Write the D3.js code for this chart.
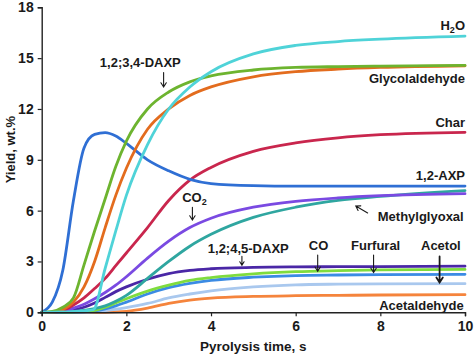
<!DOCTYPE html>
<html>
<head>
<meta charset="utf-8">
<script src="https://cdn.jsdelivr.net/npm/d3@7/dist/d3.min.js"></script>
<style>
  html, body { margin: 0; padding: 0; background: #fff; }
  svg { display: block; }
  text { font-family: "Liberation Sans", Arial, sans-serif; font-weight: bold; fill: #1a1a1a; }
</style>
</head>
<body>
<svg id="chart" width="474" height="356"></svg>
<script>
// ---------- data ----------
const time    = [0, 0.25, 0.5, 0.75, 1, 1.25, 1.5, 1.75, 2, 2.5, 3, 3.5, 4, 5, 6, 7, 8, 10];
const timeH2O = [0, 0.5, 1, 1.22, 1.5, 1.75, 2, 2.5, 3, 3.5, 4, 5, 6, 7, 8, 10];

const axp12        = [0, 0.6, 2.5, 6.6, 9.7, 10.5, 10.6, 10.4, 9.97, 9.0, 8.35, 7.85, 7.6, 7.48, 7.45, 7.45, 7.45, 7.45];
const daxp1234     = [0, 0.05, 0.3, 0.85, 2.8, 4.8, 6.7, 8.6, 10.1, 12.0, 13.0, 13.6, 13.95, 14.3, 14.45, 14.5, 14.53, 14.57];
const glycolald    = [0, 0, 0.15, 0.6, 1.5, 3.0, 5.0, 6.9, 8.5, 10.8, 12.0, 12.8, 13.3, 13.9, 14.2, 14.35, 14.45, 14.55];
const water        = [0, 0.02, 0.08, 0.15, 2.6, 4.8, 6.9, 9.9, 12.0, 13.3, 14.2, 15.25, 15.75, 15.98, 16.12, 16.3];
const charY        = [0, 0, 0.1, 0.43, 0.85, 1.4, 2.0, 2.75, 3.5, 5.0, 6.6, 7.8, 8.55, 9.5, 10.0, 10.3, 10.48, 10.62];
const co2          = [0, 0, 0.05, 0.25, 0.48, 0.8, 1.17, 1.6, 2.1, 3.2, 4.2, 5.0, 5.55, 6.2, 6.55, 6.75, 6.88, 7.0];
const methylglyox  = [0, 0, 0, 0.05, 0.12, 0.22, 0.38, 0.65, 1.0, 2.0, 3.0, 3.9, 4.6, 5.6, 6.2, 6.6, 6.84, 7.18];
const daxp1245     = [0, 0, 0.05, 0.15, 0.3, 0.55, 0.88, 1.22, 1.5, 1.95, 2.28, 2.47, 2.57, 2.65, 2.68, 2.69, 2.7, 2.72];
const coY          = [0, 0, 0, 0.02, 0.05, 0.12, 0.3, 0.55, 0.8, 1.25, 1.6, 1.88, 2.05, 2.27, 2.4, 2.46, 2.5, 2.53];
const furfural     = [0, 0, 0, 0, 0.02, 0.08, 0.2, 0.38, 0.6, 1.08, 1.45, 1.7, 1.88, 2.07, 2.17, 2.2, 2.22, 2.24];
const acetol       = [0, 0, 0, 0, 0, 0.03, 0.1, 0.18, 0.28, 0.52, 0.85, 1.08, 1.27, 1.5, 1.62, 1.66, 1.68, 1.69];
const acetaldehyde = [0, 0, 0, 0, 0, 0, 0, 0.02, 0.06, 0.25, 0.52, 0.72, 0.84, 0.94, 0.98, 1.0, 1.02, 1.04];

const xTicks = [0, 2, 4, 6, 8, 10];
const yTicks = [0, 3, 6, 9, 12, 15, 18];

// ---------- series table ----------
const series = [
  { key: "Acetaldehyde",  t: time,    v: acetaldehyde, color: "#f5843c" },
  { key: "Acetol",        t: time,    v: acetol,       color: "#a9c8ee" },
  { key: "Furfural",      t: time,    v: furfural,     color: "#3b8be4" },
  { key: "CO",            t: time,    v: coY,          color: "#7fdc3e" },
  { key: "1,2;4,5-DAXP",  t: time,    v: daxp1245,     color: "#4a27a6" },
  { key: "Methylglyoxal", t: time,    v: methylglyox,  color: "#2fa6a0" },
  { key: "CO2",           t: time,    v: co2,          color: "#7a4ae2" },
  { key: "Char",          t: time,    v: charY,        color: "#c9264d" },
  { key: "1,2-AXP",       t: time,    v: axp12,        color: "#2f6fd4" },
  { key: "Glycolaldehyde",t: time,    v: glycolald,    color: "#e36c1e" },
  { key: "1,2;3,4-DAXP",  t: time,    v: daxp1234,     color: "#6db42f" },
  { key: "H2O",           t: timeH2O, v: water,        color: "#4fd3d8" }
];

// ---------- layout ----------
const svg = d3.select("#chart");
const x = d3.scaleLinear().domain([0, 10]).range([41.7, 465]);
const y = d3.scaleLinear().domain([0, 18]).range([312.3, 7.3]);

const line = d3.line()
  .x(d => x(d[0]))
  .y(d => y(d[1]))
  .curve(d3.curveMonotoneX);

svg.append("g").selectAll("path")
  .data(series)
  .join("path")
  .attr("d", s => line(s.t.map((t, i) => [t, s.v[i]])))
  .attr("fill", "none")
  .attr("stroke", s => s.color)
  .attr("stroke-width", 2.8)
  .attr("stroke-linejoin", "round")
  .attr("stroke-linecap", "round");

// ---------- axes ----------
const xAxis = svg.append("g")
  .attr("transform", `translate(0,${y(0)})`)
  .call(d3.axisBottom(x).tickValues(xTicks).tickSize(4).tickPadding(5).tickFormat(d3.format("d")));
const yAxis = svg.append("g")
  .attr("transform", `translate(${x(0)},0)`)
  .call(d3.axisLeft(y).tickValues(yTicks).tickSize(4).tickPadding(4).tickFormat(d3.format("d")));
[xAxis, yAxis].forEach(g => {
  g.select(".domain").attr("stroke", "#222").attr("stroke-width", 1.4);
  g.selectAll(".tick line").attr("stroke", "#222").attr("stroke-width", 1.2);
  g.selectAll(".tick text").style("font-family", "'Liberation Sans', Arial, sans-serif")
    .style("font-weight", "bold").style("font-size", "14px").attr("fill", "#1a1a1a");
});

svg.append("text")
  .attr("x", (x(0) + x(10)) / 2).attr("y", 351)
  .attr("text-anchor", "middle").style("font-size", "13.5px")
  .text("Pyrolysis time, s");
svg.append("text")
  .attr("transform", `translate(15,${y(9.6)}) rotate(-90)`)
  .attr("text-anchor", "middle").style("font-size", "13px")
  .text("Yield, wt.%");

// ---------- annotations ----------
const labelFont = "13px";
function label(txt, t, v, anchor) {
  return svg.append("text").attr("x", x(t)).attr("y", y(v))
    .attr("text-anchor", anchor).style("font-size", labelFont).text(txt);
}
function withSub(base, sub, tail, t, v, anchor) {
  const el = svg.append("text").attr("x", x(t)).attr("y", y(v))
    .attr("text-anchor", anchor).style("font-size", labelFont);
  el.append("tspan").text(base);
  el.append("tspan").attr("dy", 3).style("font-size", "9px").text(sub);
  if (tail) el.append("tspan").attr("dy", -3).text(tail);
  return el;
}
withSub("H", "2", "O", 10, 16.65, "end");
label("Glycolaldehyde", 10, 13.52, "end");
label("Char", 10, 10.93, "end");
label("1,2-AXP", 10, 7.8, "end");
label("Methylglyoxal", 9.97, 5.39, "end");
label("Acetaldehyde", 9.97, 0.14, "end");
label("1,2;3,4-DAXP", 2.33, 14.47, "middle");
withSub("CO", "2", null, 3.32, 6.5, "start");
label("1,2;4,5-DAXP", 4.88, 3.5, "middle");
label("CO", 6.54, 3.68, "middle");
label("Furfural", 7.89, 3.68, "middle");
label("Acetol", 9.43, 3.68, "middle");

// arrows: from (t0,v0) to tip (t1,v1)
function arrow(t0, v0, t1, v1, w, head) {
  const x0 = x(t0), y0 = y(v0), x1 = x(t1), y1 = y(v1);
  const ang = Math.atan2(y1 - y0, x1 - x0);
  const a1 = ang + Math.PI * 0.82, a2 = ang - Math.PI * 0.82;
  const p = d3.path();
  p.moveTo(x0, y0); p.lineTo(x1, y1);
  p.moveTo(x1 + head * Math.cos(a1), y1 + head * Math.sin(a1));
  p.lineTo(x1, y1);
  p.lineTo(x1 + head * Math.cos(a2), y1 + head * Math.sin(a2));
  svg.append("path").attr("d", p.toString()).attr("fill", "none")
    .attr("stroke", "#1a1a1a").attr("stroke-width", w).attr("stroke-linecap", "round");
}
arrow(2.88, 14.15, 2.88, 13.3, 1.1, 5);
arrow(3.56, 6.2, 3.56, 5.45, 1.1, 5);
arrow(4.73, 3.3, 4.73, 2.78, 1.1, 4);
arrow(6.52, 3.38, 6.52, 2.42, 1.1, 5);
arrow(7.84, 3.38, 7.84, 2.35, 1.1, 5);
arrow(9.4, 3.3, 9.4, 1.76, 1.8, 6);
arrow(7.7, 5.86, 7.42, 6.27, 1.1, 5);
</script>
</body>
</html>
